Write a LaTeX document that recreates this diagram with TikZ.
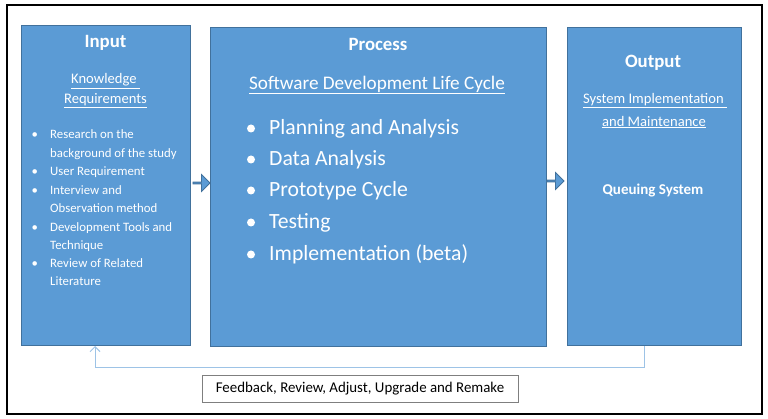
\documentclass[tikz,border=0pt]{standalone}
\usepackage{fontspec}
\setmainfont{Carlito}
\usetikzlibrary{shapes.arrows,arrows.meta}
\definecolor{boxfill}{HTML}{5B9BD5}
\definecolor{boxline}{HTML}{41719C}
\definecolor{fbline}{HTML}{9DC3E6}
\definecolor{fbframe}{HTML}{7F7F7F}
\newcommand{\fs}[1]{\fontsize{#1}{#1}\selectfont}
\begin{document}
\begin{tikzpicture}[x=1pt,y=-1pt,
  bigbox/.style={draw=boxline, fill=boxfill, line width=1pt, anchor=north west, inner sep=0pt},
  wtxt/.style={text=white, inner sep=0pt},
  ttl/.style={wtxt, font=\fs{18.8}\bfseries},
  sub/.style={wtxt, font=\fs{14.6}},
  sitem/.style={wtxt, font=\fs{12.8}, anchor=base west},
  bitem/.style={wtxt, font=\fs{21.7}, anchor=base west},
  blockarrow/.style={single arrow, draw=boxline, fill=boxfill, line width=0.8pt,
    minimum height=17pt, minimum width=17pt, single arrow head extend=3.5pt, inner sep=0pt}
]
\useasboundingbox (0,0) rectangle (768,419);
\node[draw=black, line width=2pt, anchor=north west, minimum width=755pt, minimum height=409pt, inner sep=0pt] (frame) at (6,4) {};

\node[bigbox, minimum width=169pt, minimum height=320pt] (in) at (21,25) {};
\node[bigbox, minimum width=336pt, minimum height=319pt] (proc) at (210,27) {};
\node[bigbox, minimum width=174pt, minimum height=318pt] (out) at (567,27) {};

% Input texts
\node[ttl] (inT) at (105.5,43) {Input};
\node[sub] (inS1) at (105.5,81) {\underline{Knowledge\ }};
\node[sub] (inS2) at (105.5,101) {\underline{Requirements}};
\foreach \n/\yy/\b/\t in {i1/139/1/Research on the, i2/158/0/background of the study, i3/176/1/User Requirement, i4/195/1/Interview and, i5/213/0/Observation method, i6/232/1/Development Tools and, i7/250/0/Technique, i8/268/1/Review of Related, i9/286/0/Literature}{
  \node[sitem] (\n) at (50,\yy) {\t};
  \ifnum\b=1 \node[sitem] (\n b) at (31.5,\yy) {\textbullet}; \fi
}

% Process texts
\node[ttl] (prT) at (378,44) {Process};
\node[wtxt, font=\fs{19.2}] (prS) at (377,85) {\underline{Software Development Life Cycle}};
\foreach \n/\yy/\t in {p1/135/Planning and Analysis, p2/166/Data Analysis, p3/197/Prototype Cycle, p4/229/Testing, p5/261/Implementation (beta)}{
  \node[bitem] (\n) at (269,\yy) {\t};
  \node[circle, fill=white, inner sep=0pt, minimum size=8pt] (\n b) at (251,\yy-6.5) {};
}

% Output texts
\node[ttl] (ouT) at (653,63) {Output};
\node[sub] (ouS1) at (655,101) {\underline{System Implementation\ }};
\node[sub] (ouS2) at (654,122) {\underline{and Maintenance}};
\node[wtxt, font=\fs{15}\bfseries] (ouQ) at (653,191) {Queuing System};

% Block arrows
\node[blockarrow] (a1) at (201,183) {};
\node[blockarrow] (a2) at (555,181) {};

% Feedback
\coordinate (fbR) at (644,367);
\coordinate (fbL) at (95,367);
\draw[fbline, line width=1pt, -{Straight Barb[length=5pt,width=10pt]}] (out.south -| fbR) -- (fbR) -- (fbL) -- (in.south -| fbL);
\node[draw=fbframe, line width=1pt, minimum width=316pt, minimum height=27pt, inner sep=0pt, font=\fs{14.9}] (fb) at (360,388.5) {Feedback, Review, Adjust, Upgrade and Remake};
\end{tikzpicture}
\end{document}
